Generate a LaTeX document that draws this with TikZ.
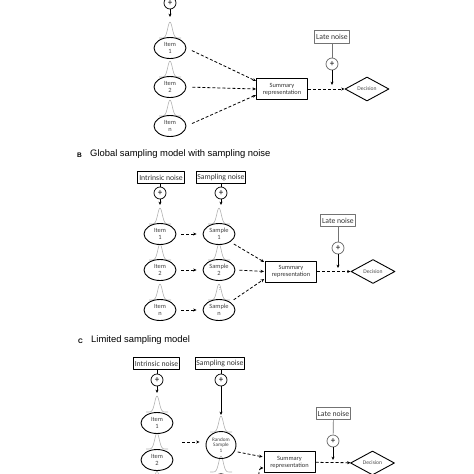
\documentclass[tikz,border=0pt]{standalone}
\usepackage{fontspec}
\setmainfont{Carlito}
\newfontfamily\headfont{Liberation Sans}
\usetikzlibrary{shapes.geometric,arrows.meta}

\begin{document}
\begin{tikzpicture}[x=1pt, y=-1pt, line join=round, >={Stealth[length=3.4pt,width=3pt]}]
	\tikzset{
		item/.style={ellipse, draw, line width=0.9pt, minimum width=32pt, minimum height=21pt, inner sep=0pt, align=center, text=black!75, font=\fontsize{6.4}{7}\selectfont},
		noisebox/.style={draw, line width=0.9pt, minimum height=12.5pt, inner sep=1.4pt, text=black!80, font=\fontsize{7.7}{8}\selectfont},
		latebox/.style={noisebox, draw=black!55, line width=0.7pt},
		plus/.style={circle, draw, line width=0.7pt, minimum size=12pt, inner sep=0pt, font=\fontsize{9}{9}\selectfont},
		summary/.style={draw, line width=1pt, minimum width=51pt, minimum height=21pt, inner sep=0.5pt, align=center, text=black!80, font=\fontsize{6.4}{7}\selectfont},
		decision/.style={diamond, draw, line width=0.9pt, minimum width=44pt, minimum height=24pt, inner sep=0pt, text=black!70, font=\fontsize{5.6}{5.6}\selectfont},
		flow/.style={->, densely dashed, line width=0.8pt},
		feed/.style={->, line width=0.7pt},
		heading/.style={anchor=west, inner sep=0pt, font=\headfont\fontsize{9.4}{10}\selectfont},
		tag/.style={anchor=west, inner sep=0pt, font=\headfont\bfseries\fontsize{6.6}{6.6}\selectfont}
	}
	\def\gauss#1#2{\draw[black!30, line width=0.6pt] plot[domain=-11:11, samples=45, smooth] ({#1+\x},{#2-16*exp(-(\x/3.2)^2)});}
	\useasboundingbox (0,0) rectangle (474,474);
	\clip (0,0) rectangle (474,474);

	% A
	\node[plus] (pA) at (170,3) {+};
	\coordinate (aA) at (170,17);
	\draw[feed] (pA) -- (aA);
	\gauss{170}{38} \gauss{170}{77} \gauss{170}{116}
	\node[item] (iA1) at (170,48) {Item\\1};
	\node[item] (iA2) at (170,87) {Item\\2};
	\node[item] (iAn) at (170,126) {Item\\n};
	\node[summary] (sA) at (282,89) {Summary\\representation};
	\draw[flow, shorten <=6pt] (iA1.east) -- ([yshift=8pt]sA.west);
	\draw[flow, shorten <=6pt] (iA2.east) -- (sA.west);
	\draw[flow, shorten <=6pt] (iAn.east) -- ([yshift=-6pt]sA.west);
	\node[decision] (dA) at (367,89) {Decision};
	\draw[flow] (sA) -- (dA);
	\node[latebox] (lA) at (332,37) {Late noise};
	\node[plus, draw=black!60] (qA) at (332,64) {+};
	\coordinate (eA) at (332,85);
	\draw[black!55, line width=0.7pt] (lA) -- (qA);
	\draw[feed] (qA) -- (eA);

	% B
	\node[tag] (tB) at (77,155.5) {B};
	\node[heading] (hB) at (90,154.5) {Global sampling model with sampling noise};
	\node[noisebox] (nB) at (161,177.5) {Intrinsic noise};
	\node[noisebox] (mB) at (221,177.5) {Sampling noise};
	\node[plus] (pB) at (160,193) {+};
	\node[plus] (qB) at (221,193) {+};
	\draw (nB.south -| pB) -- (pB);
	\draw (mB) -- (qB);
	\coordinate (aB) at (160,205);
	\coordinate (bB) at (221,205);
	\draw[feed] (pB) -- (aB);
	\draw[feed] (qB) -- (bB);
	\gauss{160}{224} \gauss{160}{260} \gauss{160}{300}
	\gauss{219}{224} \gauss{219}{260} \gauss{219}{300}
	\node[item] (iB1) at (160,234) {Item\\1};
	\node[item] (iB2) at (160,270) {Item\\2};
	\node[item] (iBn) at (160,310) {Item\\n};
	\node[item] (sB1) at (219,234) {Sample\\1};
	\node[item] (sB2) at (219,270) {Sample\\2};
	\node[item] (sBn) at (219,310) {Sample\\n};
	\node[text=black!60, font=\fontsize{6.5}{6.5}\selectfont, inner sep=0pt] (vB) at (220,289) {:};
	\draw[flow, shorten <=5pt, shorten >=6pt] (iB1) -- (sB1);
	\draw[flow, shorten <=5pt, shorten >=6pt] (iB2) -- (sB2);
	\draw[flow, shorten <=5pt, shorten >=6pt] (iBn) -- (sBn);
	\node[summary] (rB) at (291,271.5) {Summary\\representation};
	\draw[flow, shorten <=4pt, shorten >=1pt] (sB1.-35) -- ([yshift=9pt]rB.west);
	\draw[flow, shorten <=4pt, shorten >=1pt] (sB2.east) -- (rB.west);
	\draw[flow, shorten <=4pt, shorten >=1pt] (sBn.35) -- ([yshift=-7pt]rB.west);
	\node[decision] (dB) at (373,271.5) {Decision};
	\draw[flow] (rB) -- (dB);
	\node[latebox] (lB) at (338,220.5) {Late noise};
	\node[plus, draw=black!60] (qB2) at (338,248) {+};
	\coordinate (eB) at (338,268);
	\draw[black!55, line width=0.7pt] (lB) -- (qB2);
	\draw[feed] (qB2) -- (eB);

	% C
	\node[tag] (tC) at (78,341) {C};
	\node[heading] (hC) at (91,340) {Limited sampling model};
	\node[noisebox] (nC) at (156.5,363.5) {Intrinsic noise};
	\node[noisebox] (mC) at (220,363.5) {Sampling noise};
	\node[plus] (pC) at (157,380) {+};
	\node[plus] (qC) at (221,380) {+};
	\draw (nC.south -| pC) -- (pC);
	\draw (mC.south -| qC) -- (qC);
	\coordinate (aC) at (157,393);
	\coordinate (bC) at (221,415);
	\draw[feed] (pC) -- (aC);
	\draw[feed] (qC) -- (bC);
	\gauss{157}{412} \gauss{157}{449} \gauss{157}{487}
	\gauss{221}{432} \gauss{221}{472}
	\node[item] (iC1) at (157,423) {Item\\1};
	\node[item] (iC2) at (157,460) {Item\\2};
	\node[item, minimum height=27pt, minimum width=30pt, font=\fontsize{5.2}{5.6}\selectfont] (rC1) at (221,445) {Random\\Sample\\1};
	\node[ellipse, fill=black!55, minimum width=8pt, minimum height=6pt, inner sep=0pt] (rC2) at (221,476) {};
	\coordinate (xC) at (182,442);
	\draw[flow, shorten >=6pt] (xC) -- (rC1.west |- xC);
	\node[summary] (sC) at (289.5,462) {Summary\\representation};
	\draw[flow, shorten <=3pt, shorten >=1pt] (rC1.-25) -- ([yshift=5pt]sC.west);
	\coordinate (cC) at (259,480);
	\draw[flow] (cC) to[out=95, in=180] ([yshift=-6pt]sC.west);
	\node[decision] (dC) at (372.5,463) {Decision};
	\draw[flow] (sC) -- (dC);
	\node[latebox] (lC) at (333.5,413.5) {Late noise};
	\node[plus, draw=black!60] (qC2) at (333,441) {+};
	\coordinate (eC) at (333,460);
	\draw[black!55, line width=0.7pt] (lC) -- (qC2);
	\draw[feed] (qC2) -- (eC);
\end{tikzpicture}
\end{document}
